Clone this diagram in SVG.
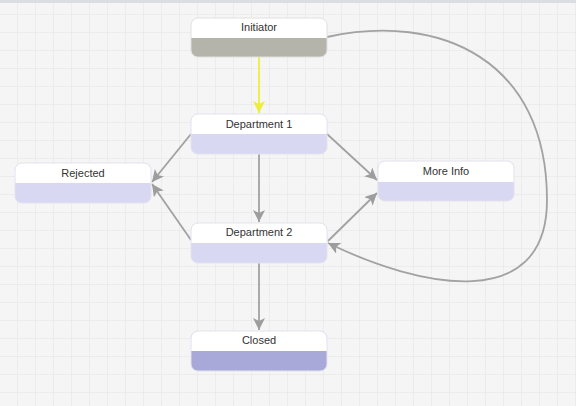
<svg xmlns="http://www.w3.org/2000/svg" width="576" height="406" viewBox="0 0 576 406">
<defs>
<pattern id="grid" x="17" y="14" width="18" height="18" patternUnits="userSpaceOnUse">
<path d="M0 0V18M0 0H18" fill="none" stroke="#e4e4e6" stroke-width="1"/>
</pattern>
<marker id="ah" viewBox="0 0 10 10" refX="10" refY="5" markerWidth="12" markerHeight="12" markerUnits="userSpaceOnUse" orient="auto">
<path d="M0 0L10 5L0 10L2.5 5Z" fill="#9d9d9d"/>
</marker>
<marker id="ahy" viewBox="0 0 10 10" refX="10" refY="5" markerWidth="12" markerHeight="12" markerUnits="userSpaceOnUse" orient="auto">
<path d="M0 0L10 5L0 10L2.5 5Z" fill="#eeee3a"/>
</marker>
<clipPath id="c1"><rect x="191" y="18" width="136" height="39" rx="7"/></clipPath>
</defs>
<style>
.lbl{font-family:"Liberation Sans",Arial,sans-serif;font-size:11px;fill:#333;text-anchor:middle}
.hd{fill:#ffffff}
.bd{fill:#d8d8f2}
.frame{fill:none;stroke:#e2e2ee;stroke-width:1}
.conn{fill:none;stroke:#a2a2a2;stroke-width:1.8;marker-end:url(#ah)}
</style>
<rect width="576" height="406" fill="#f5f5f5"/>
<rect width="576" height="406" fill="url(#grid)"/>
<rect width="576" height="3" fill="#dcdde2"/>

<g id="connectors">
<line x1="259" y1="57" x2="259" y2="113" stroke="#eeee3a" stroke-width="1.8" marker-end="url(#ahy)"/>
<line class="conn" x1="191" y1="134" x2="152" y2="182"/>
<line class="conn" x1="191" y1="240" x2="152" y2="184"/>
<line class="conn" x1="259" y1="154" x2="259" y2="222"/>
<line class="conn" x1="327" y1="134" x2="377" y2="180"/>
<line class="conn" x1="328" y1="241" x2="377" y2="193"/>
<line class="conn" x1="259" y1="263" x2="259" y2="330"/>
<path class="conn" d="M327 37C440 12 547 60 547 200C547 314 420 288 328 243"/>
</g>

<g id="initiator">
<g clip-path="url(#c1)">
<rect x="191" y="18" width="136" height="20" fill="#ffffff"/>
<rect x="191" y="38" width="136" height="19" fill="#b4b4aa"/>
</g>
<rect x="191" y="18" width="136" height="39" rx="7" fill="none" stroke="#e0e0dc"/>
<text class="lbl" x="259" y="31">Initiator</text>
</g>

<g id="department1">
<rect x="191" y="114" width="136" height="40" rx="7" class="bd"/>
<path d="M191 134V121A7 7 0 0 1 198 114H320A7 7 0 0 1 327 121V134Z" class="hd"/>
<rect x="191" y="114" width="136" height="40" rx="7" class="frame"/>
<text class="lbl" x="259" y="128">Department 1</text>
</g>

<g id="rejected">
<rect x="15" y="163" width="136" height="40" rx="7" class="bd"/>
<path d="M15 183V170A7 7 0 0 1 22 163H144A7 7 0 0 1 151 170V183Z" class="hd"/>
<rect x="15" y="163" width="136" height="40" rx="7" class="frame"/>
<text class="lbl" x="83" y="177">Rejected</text>
</g>

<g id="moreinfo">
<rect x="378" y="161" width="136" height="40" rx="7" class="bd"/>
<path d="M378 182V168A7 7 0 0 1 385 161H507A7 7 0 0 1 514 168V182Z" class="hd"/>
<rect x="378" y="161" width="136" height="40" rx="7" class="frame"/>
<text class="lbl" x="446" y="175">More Info</text>
</g>

<g id="department2">
<rect x="191" y="223" width="136" height="40" rx="7" class="bd"/>
<path d="M191 243V230A7 7 0 0 1 198 223H320A7 7 0 0 1 327 230V243Z" class="hd"/>
<rect x="191" y="223" width="136" height="40" rx="7" class="frame"/>
<text class="lbl" x="259" y="236">Department 2</text>
</g>

<g id="closed">
<rect x="191" y="331" width="136" height="40" rx="7" fill="#a9a9d9"/>
<path d="M191 351V338A7 7 0 0 1 198 331H320A7 7 0 0 1 327 338V351Z" class="hd"/>
<rect x="191" y="331" width="136" height="40" rx="7" class="frame"/>
<text class="lbl" x="259" y="344">Closed</text>
</g>
</svg>
